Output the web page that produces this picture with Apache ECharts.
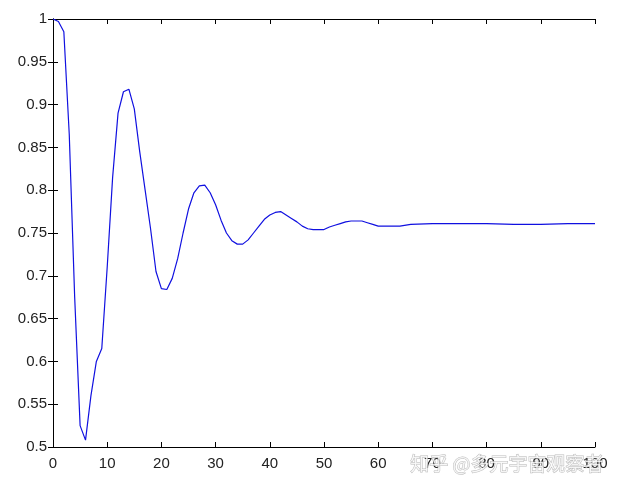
<!DOCTYPE html>
<html>
<head>
<meta charset="utf-8">
<script src="https://cdn.jsdelivr.net/npm/echarts@6/dist/echarts.min.js"></script>
<style>
  html, body { margin: 0; padding: 0; background: #fff; }
  #chart { width: 622px; height: 491px; }
</style>
</head>
<body>
<div id="chart"></div>
<script>
// step response samples
const xs = [0, 1, 2, 3, 4, 5, 6, 7, 8, 9,
  10, 11, 12, 13, 14, 15, 16, 17, 18, 19,
  20, 21, 22, 23, 24, 25, 26, 27, 28, 29,
  30, 31, 32, 33, 34, 35, 36, 37, 38, 39,
  40, 41, 42, 43, 44, 45, 46, 47, 48, 49,
  50, 51, 52, 53, 54, 55, 56, 57, 58, 59,
  60, 61, 62, 63, 64, 66, 70, 75, 80, 85, 90, 95, 100];
const ys = [1.000, 0.997, 0.985, 0.865, 0.675, 0.525, 0.508, 0.560, 0.600, 0.615,
  0.710, 0.815, 0.890, 0.915, 0.918, 0.895, 0.845, 0.800, 0.755, 0.705,
  0.685, 0.684, 0.697, 0.720, 0.750, 0.778, 0.797, 0.805, 0.806, 0.797,
  0.783, 0.765, 0.750, 0.741, 0.737, 0.737, 0.742, 0.750, 0.758, 0.766,
  0.771, 0.774, 0.775, 0.771, 0.767, 0.763, 0.758, 0.755, 0.754, 0.754,
  0.754, 0.757, 0.759, 0.761, 0.763, 0.764, 0.764, 0.764, 0.762, 0.760,
  0.758, 0.758, 0.758, 0.758, 0.758, 0.760, 0.761, 0.761, 0.761, 0.760, 0.760, 0.761, 0.761];
const xTicks = [0, 10, 20, 30, 40, 50, 60, 70, 80, 90, 100];
const yTicks = [0.5, 0.55, 0.6, 0.65, 0.7, 0.75, 0.8, 0.85, 0.9, 0.95, 1];
const watermark = "知乎 @多元宇宙观察者";

const chart = echarts.init(document.getElementById("chart"));
const lineData = xs.map((x, i) => [x, ys[i]]);

const axisLine = { show: true, lineStyle: { color: "#000", width: 1 } };
const axisTick = { show: true, inside: true, length: 5, lineStyle: { color: "#000" } };
const labelStyle = { color: "#222", fontSize: 15, fontFamily: "Liberation Sans, Arial, sans-serif" };

chart.setOption({
  animation: false,
  backgroundColor: "#fff",
  grid: { left: 53, right: 27, top: 19, bottom: 44 },
  xAxis: [
    {
      type: "value", min: xTicks[0], max: xTicks[xTicks.length - 1], interval: 10,
      position: "bottom",
      axisLine: axisLine, axisTick: axisTick,
      axisLabel: Object.assign({ margin: 9 }, labelStyle),
      splitLine: { show: false }
    },
    {
      type: "value", min: xTicks[0], max: xTicks[xTicks.length - 1], interval: 10,
      position: "top",
      axisLine: axisLine, axisTick: axisTick,
      axisLabel: { show: false },
      splitLine: { show: false }
    }
  ],
  yAxis: [
    {
      type: "value", min: yTicks[0], max: yTicks[yTicks.length - 1], interval: 0.05,
      position: "left",
      axisLine: axisLine, axisTick: axisTick,
      axisLabel: Object.assign({ margin: 6 }, labelStyle),
      splitLine: { show: false }
    },
    {
      type: "value", min: yTicks[0], max: yTicks[yTicks.length - 1], interval: 0.05,
      position: "right",
      axisLine: axisLine, axisTick: axisTick,
      axisLabel: { show: false },
      splitLine: { show: false }
    }
  ],
  series: [
    {
      type: "line",
      data: lineData,
      symbol: "none",
      smooth: false,
      lineStyle: { color: "#1010e0", width: 1.2 }
    }
  ],
  graphic: [
    {
      type: "text",
      right: 18,
      top: 454,
      z: 100,
      style: {
        text: watermark,
        font: "19px 'Noto Sans CJK SC'",
        fill: "rgba(255,255,255,0.8)",
        stroke: "rgba(140,140,140,0.6)",
        lineWidth: 1
      }
    }
  ]
});
</script>
</body>
</html>
